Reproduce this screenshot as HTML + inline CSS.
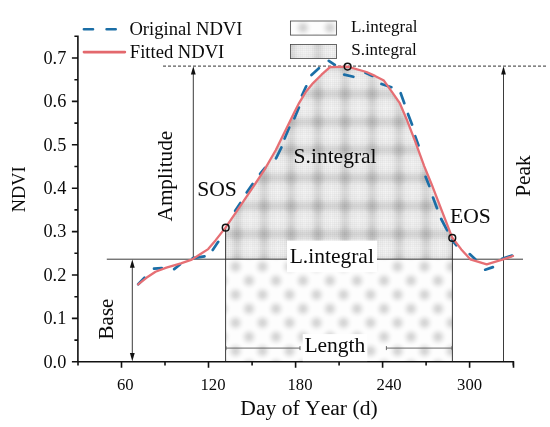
<!DOCTYPE html>
<html><head><meta charset="utf-8"><title>NDVI phenology</title>
<style>html,body{margin:0;padding:0;background:#fff}svg{display:block}</style></head>
<body>
<svg width="550" height="427" viewBox="0 0 550 427" font-family="'Liberation Serif', serif" fill="#0a0a0a" style="font-kerning:none">
<defs>
<radialGradient id="dot" cx="50%" cy="50%" r="50%">
<stop offset="0" stop-color="#d3d3d3" stop-opacity="1"/>
<stop offset="0.3" stop-color="#dadada" stop-opacity="0.9"/>
<stop offset="0.6" stop-color="#e6e6e6" stop-opacity="0.5"/>
<stop offset="0.82" stop-color="#f0f0f0" stop-opacity="0.15"/>
<stop offset="1" stop-color="#f8f8f8" stop-opacity="0"/>
</radialGradient>
<radialGradient id="blot" cx="50%" cy="50%" r="50%">
<stop offset="0" stop-color="#909090" stop-opacity="0.28"/>
<stop offset="0.5" stop-color="#909090" stop-opacity="0.13"/>
<stop offset="1" stop-color="#999" stop-opacity="0"/>
</radialGradient>
<pattern id="fine" x="0" y="0" width="2" height="2" patternUnits="userSpaceOnUse">
<rect x="0" y="0" width="1" height="2" fill="#000" fill-opacity="0.025"/>
<rect x="0" y="0" width="2" height="1" fill="#000" fill-opacity="0.025"/>
</pattern>
<pattern id="pl" x="235.5" y="266.6" width="27" height="28.1" patternUnits="userSpaceOnUse">
<rect x="0" y="0" width="27" height="28.1" fill="#fdfdfd"/>
<circle cx="0" cy="0" r="10" fill="url(#dot)"/><circle cx="27" cy="0" r="10" fill="url(#dot)"/>
<circle cx="0" cy="28.1" r="10" fill="url(#dot)"/><circle cx="27" cy="28.1" r="10" fill="url(#dot)"/>
<circle cx="13.5" cy="14.05" r="10" fill="url(#dot)"/>
</pattern>
<linearGradient id="vb" x1="0" x2="1" y1="0" y2="0">
<stop offset="0" stop-color="#959595" stop-opacity="0.3"/>
<stop offset="0.1" stop-color="#959595" stop-opacity="0.23"/>
<stop offset="0.28" stop-color="#b0b0b0" stop-opacity="0.04"/>
<stop offset="0.5" stop-color="#ffffff" stop-opacity="0.15"/>
<stop offset="0.72" stop-color="#b0b0b0" stop-opacity="0.04"/>
<stop offset="0.9" stop-color="#959595" stop-opacity="0.23"/>
<stop offset="1" stop-color="#959595" stop-opacity="0.3"/>
</linearGradient>
<linearGradient id="hb" x1="0" x2="0" y1="0" y2="1">
<stop offset="0" stop-color="#959595" stop-opacity="0.3"/>
<stop offset="0.1" stop-color="#959595" stop-opacity="0.23"/>
<stop offset="0.28" stop-color="#b0b0b0" stop-opacity="0.04"/>
<stop offset="0.5" stop-color="#ffffff" stop-opacity="0.15"/>
<stop offset="0.72" stop-color="#b0b0b0" stop-opacity="0.04"/>
<stop offset="0.9" stop-color="#959595" stop-opacity="0.23"/>
<stop offset="1" stop-color="#959595" stop-opacity="0.3"/>
</linearGradient>
<pattern id="ps" x="291" y="178" width="27" height="28.03" patternUnits="userSpaceOnUse">
<rect width="27" height="28.03" fill="#f4f4f4"/>
<rect width="27" height="28.03" fill="url(#vb)"/>
<rect width="27" height="28.03" fill="url(#hb)"/>
<circle cx="0" cy="0" r="9" fill="url(#blot)"/><circle cx="27" cy="0" r="9" fill="url(#blot)"/>
<circle cx="0" cy="28.03" r="9" fill="url(#blot)"/><circle cx="27" cy="28.03" r="9" fill="url(#blot)"/>
</pattern>
</defs>
<rect width="550" height="427" fill="#fff"/>
<rect x="225.6" y="259.2" width="226.8" height="102.6" fill="url(#pl)"/>
<polygon points="225.6,259.2 225.5,227.6 237.0,210.9 250.3,191.2 264.4,169.9 275.7,150.2 286.3,128.7 294.5,112.0 299.2,102.8 306.1,91.5 313.1,83.1 321.5,74.7 330.0,67.1 347.6,66.6 366.5,72.0 375.0,75.9 383.9,80.6 391.4,91.1 399.6,102.8 406.6,119.2 414.8,140.3 424.2,166.1 431.5,183.9 452.3,237.8 452.4,259.2" fill="url(#ps)"/>
<polygon points="225.6,259.2 225.5,227.6 237.0,210.9 250.3,191.2 264.4,169.9 275.7,150.2 286.3,128.7 294.5,112.0 299.2,102.8 306.1,91.5 313.1,83.1 321.5,74.7 330.0,67.1 347.6,66.6 366.5,72.0 375.0,75.9 383.9,80.6 391.4,91.1 399.6,102.8 406.6,119.2 414.8,140.3 424.2,166.1 431.5,183.9 452.3,237.8 452.4,259.2" fill="url(#fine)"/>
<rect x="290.4" y="21" width="46" height="14.1" fill="url(#pl)" stroke="#444" stroke-width="0.8"/>
<rect x="290.4" y="44.5" width="46" height="14.1" fill="url(#ps)"/>
<rect x="290.4" y="44.5" width="46" height="14.1" fill="url(#fine)" stroke="#444" stroke-width="0.8"/>
<line x1="106.8" y1="259.2" x2="523" y2="259.2" stroke="#303030" stroke-width="0.95" fill="none"/>
<line x1="225.6" y1="227.5" x2="225.6" y2="361.8" stroke="#303030" stroke-width="0.95" fill="none"/>
<line x1="452.4" y1="237.6" x2="452.4" y2="361.8" stroke="#303030" stroke-width="0.95" fill="none"/>
<line x1="163" y1="66.1" x2="546" y2="66.1" stroke="#333" stroke-width="1" stroke-dasharray="3 2" fill="none"/>
<line x1="193.3" y1="259.2" x2="193.3" y2="70.1" stroke="#303030" stroke-width="0.95" fill="none"/>
<polygon points="193.3,66.3 190.9,74.5 195.70000000000002,74.5" fill="#111"/>
<line x1="503.5" y1="361.8" x2="503.5" y2="70.1" stroke="#303030" stroke-width="0.95" fill="none"/>
<polygon points="503.5,66.3 501.1,74.5 505.9,74.5" fill="#111"/>
<line x1="132.3" y1="263.2" x2="132.3" y2="357.8" stroke="#303030" stroke-width="0.95" fill="none"/>
<polygon points="132.3,259.5 129.9,267.7 134.70000000000002,267.7" fill="#111"/>
<polygon points="132.3,361.3 129.9,353.1 134.70000000000002,353.1" fill="#111"/>
<path d="M225.6 348.1H300M300 346.1V350.1M226.0 346.1V350.1M386.4 348.1H452.4M386.4 346.1V350.1M452.0 346.1V350.1" stroke="#5a5a5a" stroke-width="0.9" fill="none"/>
<path d="M138.2 284.3L144.5 277.8M154.0 268.7L161.8 268.2M174.2 269.1L180.0 264.5M192.7 258.2L204.5 256.4M212.7 250.0L218.2 241.8M235.2 210.8L240.4 203.0M246.7 192.5L252.6 184.0M260.1 173.9L264.8 168.0M276.0 158.3L281.4 147.5M284.6 138.5L289.2 127.6M294.4 118.3L298.9 107.6M302.0 95.4L306.2 86.3M311.5 75.0L318.9 68.2M328.8 60.8L334.8 64.8M344.2 74.6L353.4 76.8M365.5 72.8L372.5 75.9M381.5 84.0L391.4 87.2M400.7 93.2L404.3 103.2M408.0 114.0L412.0 124.5M415.2 136.2L418.5 145.4M425.6 176.8L429.3 186.0M433.0 197.6L437.0 208.2M441.2 219.0L447.2 230.4M452.3 240.4L456.4 245.3M469.7 254.1L475.3 259.2M485.2 269.7L492.9 267.1M502.0 258.7L512.0 255.6" fill="none" stroke="#1b6ea6" stroke-width="2.7" stroke-linecap="round"/>
<polyline points="138.2,284.3 146.4,277.8 155.5,271.8 166.4,267.6 180.9,263.3 191.8,259.6 200.9,253.8 208.2,249.1 215.5,240.4 225.5,227.6 237.0,210.9 250.3,191.2 264.4,169.9 275.7,150.2 286.3,128.7 294.5,112.0 299.2,102.8 306.1,91.5 313.1,83.1 321.5,74.7 330.0,67.1 347.6,66.6 366.5,72.0 375.0,75.9 383.9,80.6 391.4,91.1 399.6,102.8 406.6,119.2 414.8,140.3 424.2,166.1 431.5,183.9 452.3,237.8 461.3,249.4 470.3,259.3 486.7,264.4 503.1,259.3 513.0,256.0" fill="none" stroke="#e66f74" stroke-width="2.3" stroke-linecap="round" stroke-linejoin="round"/>
<circle cx="225.7" cy="227.7" r="3.35" fill="none" stroke="#111" stroke-width="1.5"/>
<circle cx="347.6" cy="66.6" r="3.35" fill="none" stroke="#111" stroke-width="1.5"/>
<circle cx="452.3" cy="237.9" r="3.35" fill="none" stroke="#111" stroke-width="1.5"/>
<path d="M77.9 35.4V361.8H514.2M77.9 361.8h-6M77.9 340.1h-3.5M77.9 318.4h-6M77.9 296.7h-3.5M77.9 275.0h-6M77.9 253.3h-3.5M77.9 231.6h-6M77.9 209.9h-3.5M77.9 188.2h-6M77.9 166.5h-3.5M77.9 144.8h-6M77.9 123.1h-3.5M77.9 101.4h-6M77.9 79.7h-3.5M77.9 58.0h-6M77.9 36.3h-3.5M78.0 361.8v3.6M121.5 361.8v6M165.0 361.8v3.6M208.5 361.8v6M252.1 361.8v3.6M295.6 361.8v6M339.1 361.8v3.6M382.6 361.8v6M426.1 361.8v3.6M469.6 361.8v6M513.2 361.8v3.6M513.5 361.8v6" stroke="#111" stroke-width="1.6" fill="none"/>
<text x="66.3" y="367.6" font-size="18.3" text-anchor="end">0.0</text>
<text x="66.3" y="324.2" font-size="18.3" text-anchor="end">0.1</text>
<text x="66.3" y="280.8" font-size="18.3" text-anchor="end">0.2</text>
<text x="66.3" y="237.4" font-size="18.3" text-anchor="end">0.3</text>
<text x="66.3" y="194.0" font-size="18.3" text-anchor="end">0.4</text>
<text x="66.3" y="150.6" font-size="18.3" text-anchor="end">0.5</text>
<text x="66.3" y="107.2" font-size="18.3" text-anchor="end">0.6</text>
<text x="66.3" y="63.8" font-size="18.3" text-anchor="end">0.7</text>
<text x="125.3" y="389.5" font-size="16.7" text-anchor="middle">60</text>
<text x="213.0" y="389.5" font-size="16.7" text-anchor="middle">120</text>
<text x="300.0" y="389.5" font-size="16.7" text-anchor="middle">180</text>
<text x="389.1" y="389.5" font-size="16.7" text-anchor="middle">240</text>
<text x="469.6" y="389.5" font-size="16.7" text-anchor="middle">300</text>
<text x="309" y="414.7" font-size="21.6" text-anchor="middle">Day of Year (d)</text>
<text transform="translate(24.5,189.3) rotate(-90)" font-size="18.4" text-anchor="middle">NDVI</text>
<text x="129.4" y="35.1" font-size="18.6">Original NDVI</text>
<text x="129.8" y="58.1" font-size="18.6">Fitted NDVI</text>
<path d="M83.9 29.3h9.1M106.6 29.3h9.1" stroke="#1b6ea6" stroke-width="2.6" stroke-linecap="round"/>
<path d="M83.9 52.1h41" stroke="#e3686d" stroke-width="2.6" stroke-linecap="round"/>
<text x="350.9" y="32" font-size="17">L.integral</text>
<text x="351.2" y="55.4" font-size="17">S.integral</text>
<text x="293.6" y="163.2" font-size="21.5">S.integral</text>
<rect x="287" y="240.6" width="90" height="31.5" fill="#fff"/>
<text x="289.7" y="263.1" font-size="21.5">L.integral</text>
<rect x="302.7" y="334.1" width="64.6" height="27" fill="#fff"/>
<text x="304.4" y="352.3" font-size="21.5">Length</text>
<text x="197.2" y="195.9" font-size="21.6">SOS</text>
<text x="450" y="223.4" font-size="21.6">EOS</text>
<text transform="translate(172,176.1) rotate(-90)" font-size="21.2" text-anchor="middle">Amplitude</text>
<text transform="translate(112.9,319) rotate(-90)" font-size="21" text-anchor="middle">Base</text>
<text transform="translate(530.2,176) rotate(-90)" font-size="21.4" text-anchor="middle">Peak</text>
</svg>
</body></html>
